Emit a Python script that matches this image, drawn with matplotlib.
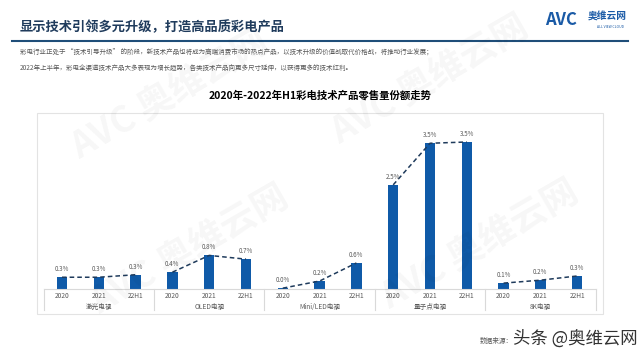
import matplotlib

matplotlib.use("Agg")
import matplotlib.pyplot as plt
from matplotlib.patches import Rectangle
import numpy as np

plt.rcParams["font.family"] = ["Noto Sans CJK SC", "DejaVu Sans"]

# data
groups = ["激光电视", "OLED电视", "Mini/LED电视", "量子点电视", "8K电视"]
periods = ["2020", "2021", "22H1"]
share = [
    [0.28, 0.28, 0.34],
    [0.40, 0.80, 0.71],
    [0.02, 0.19, 0.62],
    [2.48, 3.47, 3.50],
    [0.14, 0.21, 0.31],
]
labels = [
    ["0.3%", "0.3%", "0.3%"],
    ["0.4%", "0.8%", "0.7%"],
    ["0.0%", "0.2%", "0.6%"],
    ["2.5%", "3.5%", "3.5%"],
    ["0.1%", "0.2%", "0.3%"],
]

title = "显示技术引领多元升级，打造高品质彩电产品"
intro = [
    "彩电行业正处于 “技术引导升级” 的阶段，新技术产品也将成为高端消费市场的热点产品，以技术升级的价值战取代价格战，将推动行业发展；",
    "2022年上半年，彩电全渠道技术产品大多表现为增长趋势，各类技术产品向更多尺寸延伸，以获得更多的技术红利。",
]
chart_title = "2020年-2022年H1彩电技术产品零售量份额走势"

BAR = "#0f5aa8"
NAVY = "#1f3b5c"
GRAY = "#595959"

W, H = 640, 360
fig = plt.figure(figsize=(6.4, 3.6), dpi=100)


def fx(px):
    return px / W


def fy(py):
    return 1 - py / H


# faint watermarks
for cx, cy in [(170, 95), (430, 80), (190, 250), (480, 245)]:
    fig.text(fx(cx), fy(cy), "AVC 奥维云网", fontsize=26, fontweight="bold",
             color="#000000", alpha=0.035, rotation=30, ha="center", va="center")

# header
fig.text(fx(20), fy(27), title, fontsize=9.5, fontweight="bold", color=NAVY,
         ha="left", va="center")
fig.add_artist(plt.Line2D([fx(12), fx(628)], [fy(41), fy(41)], color="#1f4e79", lw=1.5))
fig.text(fx(545), fy(20), "AVC", fontsize=12, fontweight="bold", style="italic",
         color="#1a5aa6", ha="left", va="center")
fig.text(fx(588), fy(17), "奥维云网", fontsize=7, fontweight="bold",
         color="#1a5aa6", ha="left", va="center")
fig.text(fx(597), fy(27), "ALL VIEW CLOUD", fontsize=2.5, color="#1a5aa6",
         ha="left", va="center")
for i, line in enumerate(intro):
    fig.text(fx(20), fy(52 + 16 * i), line, fontsize=4.7, color=GRAY,
             ha="left", va="center")

fig.text(0.5, fy(95), chart_title, fontsize=7.5, fontweight="bold",
         color="#000000", ha="center", va="center")

# chart frame
fig.add_artist(Rectangle((fx(37), fy(314)), fx(566), 201 / H, transform=fig.transFigure,
                         fill=False, edgecolor="#e3e3e3", lw=0.8))

ax = fig.add_axes([fx(43.6), fy(289), fx(552), 168 / H])
ax.set_xlim(-0.5, 14.5)
ax.set_ylim(0, 4)
for s in ["top", "right", "left"]:
    ax.spines[s].set_visible(False)
ax.spines["bottom"].set_color("#d9d9d9")
ax.spines["bottom"].set_linewidth(0.8)
ax.set_xticks([])
ax.set_yticks([])
ax.patch.set_alpha(0)

trans = ax.get_xaxis_transform()
for g, name in enumerate(groups):
    xs = np.arange(3) + 3 * g
    vals = share[g]
    ax.bar(xs, vals, width=0.28, color=BAR, zorder=2)
    ax.plot(xs, vals, color=NAVY, lw=1.1, ls=(0, (3, 2)), zorder=3)
    for x, v, lab, per in zip(xs, vals, labels[g], periods):
        ax.text(x, v + 0.1, lab, fontsize=4.5, color=GRAY, ha="center", va="bottom")
        ax.text(x, -7 / 168, per, transform=trans,
                fontsize=4.8, color=GRAY, ha="center", va="center")
    ax.text(xs[1], -18 / 168, name, transform=trans, fontsize=4.8, color=GRAY,
            ha="center", va="center")

for b in [-0.5, 2.5, 5.5, 8.5, 11.5, 14.5]:
    ax.plot([b, b], [0, -21 / 168], transform=trans, color="#d9d9d9", lw=0.8,
            clip_on=False)

# footer
fig.text(fx(480), fy(341), "数据来源：", fontsize=4.8, color=GRAY, ha="left", va="center")
fig.text(fx(513), fy(339), "头条 @奥维云网", fontsize=12.5, color="#333333",
         ha="left", va="center")

fig.savefig("out.png", dpi=100)
plt.close(fig)
